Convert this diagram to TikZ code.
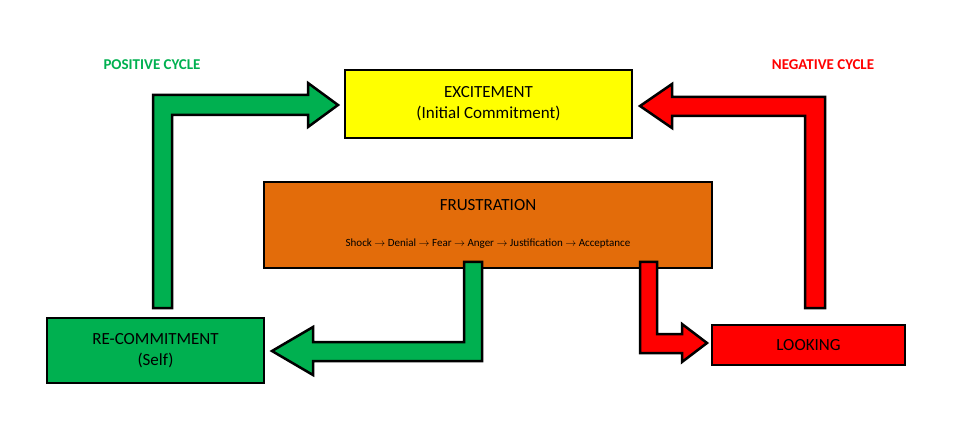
\documentclass[tikz,border=0pt]{standalone}
\usepackage{fontspec}
\setmainfont{Carlito}
\definecolor{gr}{HTML}{00B050}
\definecolor{rd}{HTML}{FF0000}
\definecolor{ye}{HTML}{FFFF00}
\definecolor{or}{HTML}{E36C0A}
\begin{document}
\begin{tikzpicture}[x=1pt,y=-1pt,
  box/.style={draw=black,line width=2.5pt,align=center,inner sep=0pt},
  blk/.style={draw=black,line width=2.5pt,line join=miter}]
\useasboundingbox (0,0) rectangle (960,427);
\node[box,fill=ye,minimum width=287,minimum height=68,font=\fontsize{17}{21}\selectfont] (exc) at (488.5,104) {EXCITEMENT\\(Initial Commitment)};
\node[box,fill=or,minimum width=448,minimum height=86] (fru) at (488,225) {};
\node[font=\fontsize{17}{20}\selectfont] (frut) at (488,205) {FRUSTRATION};
\node[font=\fontsize{11}{13}\selectfont] (stages) at (488,244) {Shock $\rightarrow$ Denial $\rightarrow$ Fear $\rightarrow$ Anger $\rightarrow$ Justification $\rightarrow$ Acceptance};
\node[box,fill=gr,minimum width=217,minimum height=65,font=\fontsize{17}{21}\selectfont] (rec) at (155.5,350.5) {RE-COMMITMENT\\(Self)};
\node[box,fill=rd,minimum width=193,minimum height=40,font=\fontsize{17}{20}\selectfont] (look) at (808.5,345) {LOOKING};
\node[text=gr,font=\bfseries\fontsize{15}{18}\selectfont] (pos) at (152,65) {POSITIVE CYCLE};
\node[text=rd,font=\bfseries\fontsize{15}{18}\selectfont] (neg) at (823,65) {NEGATIVE CYCLE};
% block arrows
\draw[blk,fill=gr] (153,308)--(172,308)--(172,115)--(308,115)--(308,127)--(338,105)--(308,83)--(308,95)--(153,95)--cycle;
\draw[blk,fill=rd] (825,308)--(805,308)--(805,116)--(672,116)--(672,128)--(640,106)--(672,84)--(672,97)--(825,97)--cycle;
\draw[blk,fill=gr] (464,262)--(482,262)--(482,361)--(313,361)--(313,375)--(272,351)--(313,327)--(313,342)--(464,342)--cycle;
\draw[blk,fill=rd] (640,262)--(657,262)--(657,334)--(682,334)--(682,324)--(707,343)--(682,362)--(682,353)--(640,353)--cycle;
\end{tikzpicture}
\end{document}
